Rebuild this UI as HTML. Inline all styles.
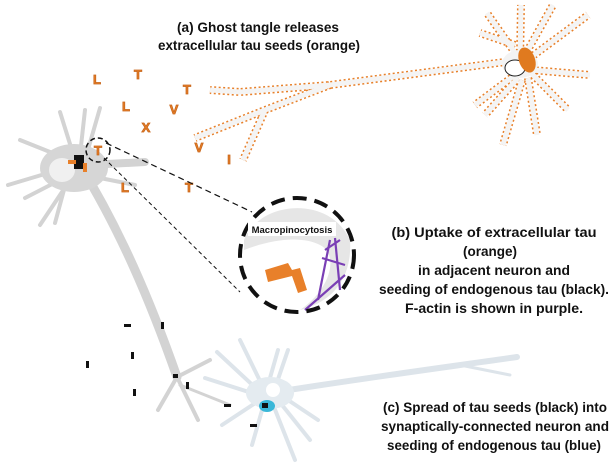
<!DOCTYPE html>
<html><head><meta charset="utf-8"><style>
html,body{margin:0;padding:0;background:#fff;}
svg{display:block;}
text{font-family:"Liberation Sans",sans-serif;font-weight:bold;fill:#111;}
.s{fill:#e8802a;stroke:#c8661a;stroke-width:0.8;font-size:13px;}
</style></head><body>
<svg width="609" height="468" viewBox="0 0 609 468" xmlns="http://www.w3.org/2000/svg">
<defs>
<g id="gp">
  <path d="M520 60 L330 85 L240 92 L210 90"/>
  <path d="M330 85 L265 110 L195 138"/>
  <path d="M265 110 L243 160"/>
  <path d="M520 60 L487 13"/><path d="M520 60 L521 5"/><path d="M525 55 L553 5"/>
  <path d="M530 58 L588 15"/><path d="M532 70 L590 75"/><path d="M530 72 L568 110"/>
  <path d="M515 75 L475 105"/><path d="M518 78 L485 115"/><path d="M522 80 L503 145"/>
  <path d="M528 78 L537 135"/><path d="M515 45 L480 33"/>
</g>
</defs>
<g fill="none" stroke-linecap="butt">
 <use href="#gp" stroke="#e8802a" stroke-width="8" stroke-dasharray="2 2.5"/>
 <use href="#gp" stroke="#f4f4f4" stroke-width="5"/>
</g>
<ellipse cx="520" cy="64" rx="18" ry="14" fill="#f3f3f3"/>
<ellipse cx="515" cy="68" rx="10" ry="8" fill="#fff" stroke="#222" stroke-width="1"/>
<ellipse cx="527" cy="60" rx="8" ry="13" fill="#e07a1f" transform="rotate(-20 527 60)"/>
<!-- Left neuron -->
<g fill="none" stroke="#d3d3d3" stroke-linecap="round">
 <path d="M80 165 C120 230 150 300 177 377" stroke-width="9"/>
 <path d="M177 377 L210 360" stroke-width="4"/><path d="M177 377 L158 410" stroke-width="4"/>
 <path d="M177 377 L198 420" stroke-width="4"/><path d="M180 385 L230 405" stroke-width="3"/>
 <path d="M75 165 L8 185" stroke-width="4"/><path d="M70 160 L20 140" stroke-width="4"/>
 <path d="M75 160 L60 112" stroke-width="4"/><path d="M80 155 L85 110" stroke-width="4"/>
 <path d="M85 160 L100 108" stroke-width="4"/><path d="M88 165 L145 162" stroke-width="8"/>
 <path d="M85 175 L135 185" stroke-width="4"/><path d="M70 180 L40 225" stroke-width="4"/>
 <path d="M60 180 L25 198" stroke-width="4"/><path d="M68 175 L55 223" stroke-width="4"/>
</g>
<ellipse cx="74" cy="168" rx="34" ry="24" fill="#d6d6d6"/>
<ellipse cx="62" cy="170" rx="13" ry="12" fill="#f0f0f0"/>
<rect x="74" y="155" width="10" height="14" fill="#111"/>
<rect x="68" y="160" width="8" height="4" fill="#e8802a"/><rect x="83" y="163" width="4" height="9" fill="#e8802a"/>
<circle cx="98" cy="150" r="12" fill="none" stroke="#111" stroke-width="1.5" stroke-dasharray="5 3"/>
<text x="98" y="155" text-anchor="middle" class="s">T</text>
<!-- Bottom neuron -->
<g fill="none" stroke="#dde4ea" stroke-linecap="round">
 <path d="M270 393 C350 380 440 368 517 357" stroke-width="6"/>
 <path d="M460 365 L510 375" stroke-width="3"/>
 <path d="M262 385 L240 340" stroke-width="4"/><path d="M268 385 L278 350" stroke-width="4"/>
 <path d="M275 388 L288 350" stroke-width="4"/><path d="M260 392 L217 352" stroke-width="4"/>
 <path d="M258 395 L205 378" stroke-width="4"/><path d="M260 400 L222 425" stroke-width="4"/>
 <path d="M265 400 L252 445" stroke-width="4"/><path d="M272 402 L295 460" stroke-width="4"/>
 <path d="M278 400 L310 440" stroke-width="4"/><path d="M285 398 L318 420" stroke-width="4"/>
</g>
<ellipse cx="270" cy="393" rx="24" ry="16" fill="#e4ebf0"/>
<circle cx="273" cy="390" r="7" fill="#fff"/>
<ellipse cx="267" cy="406" rx="8" ry="6" fill="#3ab7d8"/>
<rect x="262" y="403" width="6" height="5" fill="#111"/>
<g fill="#111">
<rect x="124" y="324" width="7" height="3"/><rect x="161" y="322" width="3" height="7"/>
<rect x="131" y="352" width="3" height="7"/><rect x="86" y="361" width="3" height="7"/>
<rect x="133" y="389" width="3" height="7"/><rect x="173" y="374" width="5" height="4"/>
<rect x="186" y="382" width="3" height="7"/><rect x="224" y="404" width="7" height="3"/>
<rect x="250" y="424" width="7" height="3"/>
</g>
<g text-anchor="middle">
<text x="97" y="84" class="s">L</text><text x="138" y="79" class="s">T</text>
<text x="187" y="94" class="s">T</text><text x="126" y="111" class="s">L</text>
<text x="174" y="114" class="s">V</text><text x="146" y="132" class="s">X</text>
<text x="199" y="152" class="s">V</text><text x="229" y="164" class="s">I</text>
<text x="125" y="192" class="s">L</text><text x="189" y="192" class="s">T</text>
</g>
<g stroke="#111" fill="none">
<path d="M106 143 L252 212" stroke-width="1.2" stroke-dasharray="6 4"/>
<path d="M104 158 L240 292" stroke-width="1" stroke-dasharray="4 3"/>
</g>
<circle cx="297" cy="255" r="57" fill="#fff"/>
<path d="M244 240 C260 200 330 195 350 240 C352 270 340 300 300 310 C330 290 340 255 320 245 C300 235 270 240 244 250 Z" fill="#e6e6e6"/>
<g stroke="#7a3fb5" stroke-width="2.2">
<line x1="330" y1="240" x2="318" y2="300"/><line x1="335" y1="238" x2="340" y2="290"/>
<line x1="322" y1="258" x2="345" y2="265"/><line x1="305" y1="310" x2="345" y2="275"/>
<line x1="325" y1="250" x2="340" y2="240"/>
</g>
<path d="M265 270 L288 263 L292 270 L300 268 L307 290 L298 293 L292 276 L268 282 Z" fill="#e8802a"/>
<circle cx="297" cy="255" r="57" fill="none" stroke="#111" stroke-width="4" stroke-dasharray="14 8"/>
<rect x="248" y="222" width="88" height="14" fill="#fff"/>
<text x="292" y="233" font-size="9.5" text-anchor="middle">Macropinocytosis</text>
<g text-anchor="middle">
<text x="258" y="32" font-size="14" textLength="162" lengthAdjust="spacingAndGlyphs">(a) Ghost tangle releases</text>
<text x="259" y="50" font-size="14" textLength="202" lengthAdjust="spacingAndGlyphs">extracellular tau seeds (orange)</text>
<text x="494" y="237" font-size="13.5" textLength="205" lengthAdjust="spacingAndGlyphs">(b) Uptake of extracellular tau</text>
<text x="490" y="256" font-size="13.5">(orange)</text>
<text x="494" y="275" font-size="13.5" textLength="152" lengthAdjust="spacingAndGlyphs">in adjacent neuron and</text>
<text x="494" y="294" font-size="13.5" textLength="230" lengthAdjust="spacingAndGlyphs">seeding of endogenous tau (black).</text>
<text x="494" y="313" font-size="13.5" textLength="178" lengthAdjust="spacingAndGlyphs">F-actin is shown in purple.</text>
<text x="495" y="412" font-size="13.5" textLength="224" lengthAdjust="spacingAndGlyphs">(c) Spread of tau seeds (black) into</text>
<text x="495" y="431" font-size="13.5" textLength="228" lengthAdjust="spacingAndGlyphs">synaptically-connected neuron and</text>
<text x="494" y="450" font-size="13.5" textLength="214" lengthAdjust="spacingAndGlyphs">seeding of endogenous tau (blue)</text>
</g>
</svg>
</body></html>
